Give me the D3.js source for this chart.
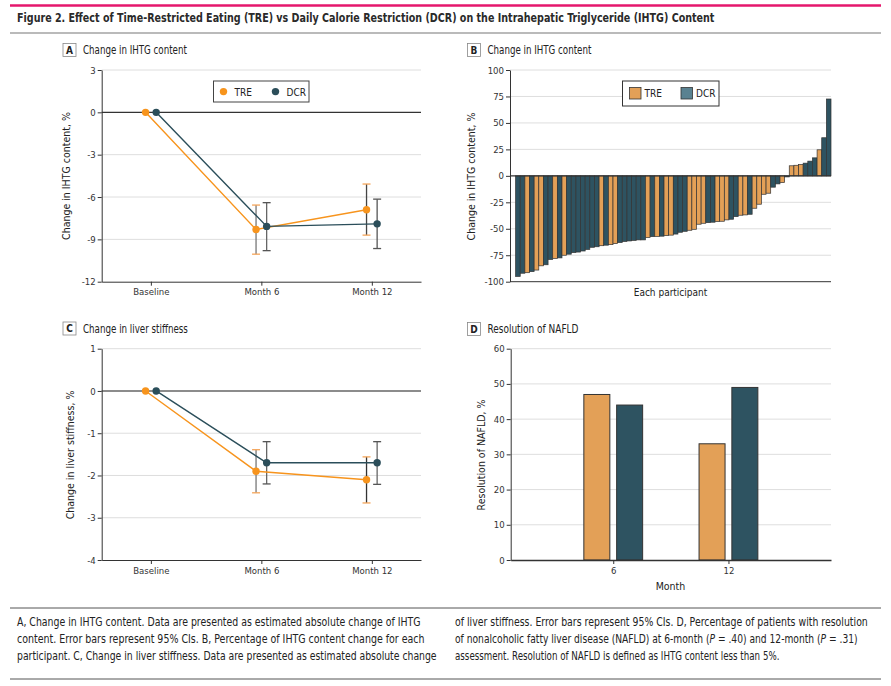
<!DOCTYPE html>
<html>
<head>
<meta charset="utf-8">
<script src="https://cdn.jsdelivr.net/npm/d3@7"></script>
<style>
  body { margin: 0; background: #fff; }
  text { font-family: "Liberation Sans Narrow", "DejaVu Sans Condensed", "Roboto", sans-serif; fill: #222; }
  .tick text { font-size: 9.5px; fill: #333; }
  .tick line, .domain { stroke: #333; }
</style>
</head>
<body>
<svg id="fig" width="891" height="686"></svg>
<script>
// ---- data ----
var timepoints = ["Baseline", "Month 6", "Month 12"];

// panel A: change in IHTG content, %
var ihtgTRE   = [0, -8.3, -6.9];
var ihtgTRElo = [null, -10.05, -8.7];
var ihtgTREhi = [null, -6.57, -5.08];
var ihtgDCR   = [0, -8.08, -7.9];
var ihtgDCRlo = [null, -9.8, -9.65];
var ihtgDCRhi = [null, -6.4, -6.15];
var ihtgTicks = [3, 0, -3, -6, -9, -12];

// panel C: change in liver stiffness
var stiffTRE   = [0, -1.9, -2.1];
var stiffTRElo = [null, -2.41, -2.65];
var stiffTREhi = [null, -1.39, -1.56];
var stiffDCR   = [0, -1.7, -1.7];
var stiffDCRlo = [null, -2.2, -2.21];
var stiffDCRhi = [null, -1.2, -1.2];
var stiffTicks = [1, 0, -1, -2, -3, -4];

// panel B: each participant, sorted
var participantGroup = ["DCR","DCR","TRE","DCR","TRE","TRE","DCR","DCR","TRE","DCR",
  "TRE","DCR","DCR","DCR","DCR","DCR","DCR","DCR","TRE","DCR",
  "TRE","TRE","DCR","DCR","DCR","DCR","DCR","DCR","TRE","DCR",
  "TRE","DCR","TRE","TRE","DCR","DCR","DCR","TRE","TRE","TRE",
  "TRE","DCR","DCR","TRE","TRE","TRE","DCR","DCR","TRE","TRE",
  "DCR","TRE","TRE","TRE","TRE","DCR","DCR","TRE","DCR","TRE",
  "TRE","TRE","DCR","DCR","DCR","TRE","DCR","DCR"];
var participantChange = [-95, -92, -91.5, -90.5, -89, -85, -84, -79, -78, -77.5,
  -75, -74, -72.5, -72, -71, -69.5, -67.5, -67, -66, -65.5,
  -65, -64, -63, -62, -61.5, -61, -60.5, -60.5, -58.3, -57.4,
  -57.2, -57, -56.4, -56, -55, -53.3, -52.4, -51.4, -50.5, -45.7,
  -44.8, -44.2, -43.8, -43.2, -42.9, -41.6, -41, -38.5, -37.2, -36.9,
  -36.3, -30.6, -26.8, -17.4, -16.4, -10.7, -7.6, -6.3, -1, 9.5,
  10, 10.7, 12, 13.9, 17, 24.6, 36, 72.6];
var pctTicks = [100, 75, 50, 25, 0, -25, -50, -75, -100];

// panel D: resolution of NAFLD, %
var months = ["6", "12"];
var resolutionTRE = [47, 33];
var resolutionDCR = [44, 49];
var resTicks = [0, 10, 20, 30, 40, 50, 60];

var lineColor = { TRE: "#f7941d", DCR: "#2b4e5a" };
var barColor  = { TRE: "#e3a057", DCR: "#2e5361" };

var svg = d3.select("#fig");
var fmt = function(d) { return String(d); };

// squeeze a text horizontally to the width measured on the reference
function fit(sel, w) {
  var n = sel.node().getComputedTextLength();
  var x = +sel.attr("x"), y = +sel.attr("y");
  return sel.attr("x", 0).attr("y", 0)
    .attr("transform", "translate(" + x + "," + y + ") scale(" + (w / n).toFixed(4) + ",1)");
}

// ---- header ----
svg.append("line").attr("x1", 10).attr("x2", 881).attr("y1", 5.5).attr("y2", 5.5)
  .attr("stroke", "#e5176c").attr("stroke-width", 2.5);
fit(svg.append("text").attr("x", 17).attr("y", 21.5)
  .style("font-size", "12.5px").style("font-weight", "bold").style("fill", "#2a2a2a")
  .text("Figure 2. Effect of Time-Restricted Eating (TRE) vs Daily Calorie Restriction (DCR) on the Intrahepatic Triglyceride (IHTG) Content"), 698);
svg.append("line").attr("x1", 10).attr("x2", 881).attr("y1", 33).attr("y2", 33)
  .attr("stroke", "#777").attr("stroke-width", 1.2);

function panelLabel(x, y, letter, title, w) {
  svg.append("rect").attr("x", x).attr("y", y).attr("width", 13).attr("height", 13)
    .attr("fill", "none").attr("stroke", "#888").attr("stroke-width", 0.8);
  svg.append("text").attr("x", x + 6.5).attr("y", y + 10).attr("text-anchor", "middle")
    .style("font-size", "10px").style("font-weight", "bold").text(letter);
  fit(svg.append("text").attr("x", x + 20).attr("y", y + 10.5)
    .style("font-size", "11.5px").text(title), w);
}

function yLabel(x, y, txt) {
  svg.append("text").attr("transform", "translate(" + x + "," + y + ") rotate(-90)")
    .attr("text-anchor", "middle").style("font-size", "10.5px").text(txt);
}

function grid(y, ticks, left, right, skip) {
  svg.append("g").selectAll("line")
    .data(ticks.filter(function(t) { return skip.indexOf(t) < 0; }))
    .enter().append("line")
    .attr("x1", left).attr("x2", right)
    .attr("y1", function(d) { return y(d); }).attr("y2", function(d) { return y(d); })
    .attr("stroke", "#dedede").attr("stroke-width", 1);
}

function linePanel(cfg) {
  var x = d3.scalePoint().domain(timepoints).range([cfg.left, cfg.right]).padding(0.445);
  var y = d3.scaleLinear().domain([cfg.ticks[cfg.ticks.length - 1], cfg.ticks[0]])
    .range([cfg.bottom, cfg.top]);

  grid(y, cfg.ticks, cfg.left, cfg.right, [0, cfg.ticks[cfg.ticks.length - 1]]);
  svg.append("line").attr("x1", cfg.left).attr("x2", cfg.right)
    .attr("y1", y(0)).attr("y2", y(0)).attr("stroke", cfg.zeroColor).attr("stroke-width", cfg.zeroWidth);

  svg.append("g").attr("transform", "translate(" + cfg.left + ",0)")
    .call(d3.axisLeft(y).tickValues(cfg.ticks).tickFormat(fmt).tickSize(4).tickSizeOuter(0).tickPadding(2));
  svg.append("g").attr("transform", "translate(0," + cfg.bottom + ")")
    .call(d3.axisBottom(x).tickSize(4).tickSizeOuter(0).tickPadding(3));

  var series = [
    { key: "TRE", vals: cfg.tre, lo: cfg.trelo, hi: cfg.trehi, dx: -5.3, bar: cfg.treBar },
    { key: "DCR", vals: cfg.dcr, lo: cfg.dcrlo, hi: cfg.dcrhi, dx: 5.3, bar: cfg.dcrBar }
  ];

  series.forEach(function(s) {
    var g = svg.append("g");
    timepoints.forEach(function(t, i) {
      if (s.lo[i] === null) return;
      var cx = x(t) + s.dx;
      g.append("line").attr("x1", cx).attr("x2", cx)
        .attr("y1", y(s.lo[i])).attr("y2", y(s.hi[i]))
        .attr("stroke", s.bar[i]).attr("stroke-width", 1.3);
      [s.lo[i], s.hi[i]].forEach(function(v) {
        g.append("line").attr("x1", cx - 4).attr("x2", cx + 4)
          .attr("y1", y(v)).attr("y2", y(v))
          .attr("stroke", s.key === "TRE" ? "#f4a55a" : "#555").attr("stroke-width", 1.3);
      });
    });
  });

  series.forEach(function(s) {
    var line = d3.line()
      .x(function(d, i) { return x(timepoints[i]) + s.dx; })
      .y(function(d) { return y(d); });
    svg.append("path").datum(s.vals).attr("d", line)
      .attr("fill", "none").attr("stroke", lineColor[s.key]).attr("stroke-width", 1.4);
  });
  series.forEach(function(s) {
    svg.append("g").selectAll("circle").data(s.vals).enter().append("circle")
      .attr("cx", function(d, i) { return x(timepoints[i]) + s.dx; })
      .attr("cy", function(d) { return y(d); })
      .attr("r", 3.7).attr("fill", lineColor[s.key]);
  });
}

// ---- panel A ----
panelLabel(63, 43.5, "A", "Change in IHTG content", 104);
linePanel({
  left: 101.7, right: 421, top: 70, bottom: 281.7, ticks: ihtgTicks,
  tre: ihtgTRE, trelo: ihtgTRElo, trehi: ihtgTREhi,
  dcr: ihtgDCR, dcrlo: ihtgDCRlo, dcrhi: ihtgDCRhi,
  treBar: [null, "#777", "#444"], dcrBar: [null, "#666", "#555"],
  zeroColor: "#333", zeroWidth: 1.2
});
yLabel(70, 176, "Change in IHTG content, %");
// legend A
svg.append("rect").attr("x", 213.5).attr("y", 81).attr("width", 95.5).attr("height", 21)
  .attr("fill", "#fff").attr("stroke", "#444").attr("stroke-width", 1);
[["TRE", 223.5], ["DCR", 275.5]].forEach(function(l) {
  svg.append("circle").attr("cx", l[1]).attr("cy", 91.6).attr("r", 3.7).attr("fill", lineColor[l[0]]);
  svg.append("text").attr("x", l[1] + 11).attr("y", 95.5).style("font-size", "10px").text(l[0]);
});

// ---- panel C ----
panelLabel(63, 322, "C", "Change in liver stiffness", 105);
linePanel({
  left: 101.7, right: 421, top: 348.7, bottom: 560, ticks: stiffTicks,
  tre: stiffTRE, trelo: stiffTRElo, trehi: stiffTREhi,
  dcr: stiffDCR, dcrlo: stiffDCRlo, dcrhi: stiffDCRhi,
  treBar: [null, "#777", "#333"], dcrBar: [null, "#666", "#666"],
  zeroColor: "#666", zeroWidth: 1.6
});
yLabel(74, 455, "Change in liver stiffness, %");

// ---- panel B ----
panelLabel(467.5, 43.5, "B", "Change in IHTG content", 104);
(function() {
  var left = 510, right = 831, top = 70, bottom = 281.7;
  var idx = d3.range(participantChange.length);
  var x = d3.scaleBand().domain(idx).range([515.6, 831]).paddingInner(0);
  var y = d3.scaleLinear().domain([-100, 100]).range([bottom, top]);
  grid(y, pctTicks, left, right, [0, -100]);
  svg.append("g").selectAll("rect").data(idx).enter().append("rect")
    .attr("x", function(i) { return x(i); })
    .attr("width", x.bandwidth())
    .attr("y", function(i) { return y(Math.max(0, participantChange[i])); })
    .attr("height", function(i) { return Math.abs(y(participantChange[i]) - y(0)); })
    .attr("fill", function(i) { return barColor[participantGroup[i]]; })
    .attr("stroke", "#333").attr("stroke-width", 0.7);
  svg.append("line").attr("x1", left).attr("x2", right).attr("y1", y(0)).attr("y2", y(0))
    .attr("stroke", "#333").attr("stroke-width", 1.2);
  svg.append("g").attr("transform", "translate(" + left + ",0)")
    .call(d3.axisLeft(y).tickValues(pctTicks).tickFormat(fmt).tickSize(4).tickSizeOuter(0).tickPadding(2));
  svg.append("line").attr("x1", left).attr("x2", right).attr("y1", bottom).attr("y2", bottom)
    .attr("stroke", "#333");
  svg.append("text").attr("x", 670.5).attr("y", 295.5).attr("text-anchor", "middle")
    .style("font-size", "10px").text("Each participant");
  yLabel(475, 176.5, "Change in IHTG content, %");
  // legend B
  svg.append("rect").attr("x", 622.5).attr("y", 81).attr("width", 96.5).attr("height", 25)
    .attr("fill", "#fff").attr("stroke", "#333").attr("stroke-width", 1);
  [["TRE", 629.5, "#e3a057"], ["DCR", 681, "#5a8291"]].forEach(function(l) {
    svg.append("rect").attr("x", l[1]).attr("y", 87.5).attr("width", 11.5).attr("height", 11.5)
      .attr("fill", l[2]).attr("stroke", "#333").attr("stroke-width", 0.8);
    svg.append("text").attr("x", l[1] + 15).attr("y", 97).style("font-size", "10px").text(l[0]);
  });
})();

// ---- panel D ----
panelLabel(467.5, 322.5, "D", "Resolution of NAFLD", 91);
(function() {
  var left = 510.7, right = 831, top = 348.7, bottom = 560;
  var x = d3.scalePoint().domain(months).range([left, right]).padding(0.89);
  var y = d3.scaleLinear().domain([0, 60]).range([bottom, top]);
  grid(y, resTicks, left, right, [0]);
  var bw = 26, gap = 3.4;
  var groups = [
    { key: "TRE", vals: resolutionTRE, off: -gap - bw },
    { key: "DCR", vals: resolutionDCR, off: gap }
  ];
  groups.forEach(function(s) {
    svg.append("g").selectAll("rect").data(s.vals).enter().append("rect")
      .attr("x", function(d, i) { return x(months[i]) + s.off; })
      .attr("width", bw)
      .attr("y", function(d) { return y(d); })
      .attr("height", function(d) { return y(0) - y(d); })
      .attr("fill", barColor[s.key]).attr("stroke", "#333").attr("stroke-width", 1);
  });
  svg.append("g").attr("transform", "translate(" + left + ",0)")
    .call(d3.axisLeft(y).tickValues(resTicks).tickFormat(fmt).tickSize(4).tickSizeOuter(0).tickPadding(2));
  var xg = svg.append("g").attr("transform", "translate(0," + bottom + ")")
    .call(d3.axisBottom(x).tickSize(4).tickSizeOuter(0).tickPadding(3));
  xg.select(".domain").attr("stroke", "#777").attr("stroke-width", 1.6);
  svg.append("text").attr("x", 670.5).attr("y", 589.5).attr("text-anchor", "middle")
    .style("font-size", "10.5px").text("Month");
  yLabel(485, 455, "Resolution of NAFLD, %");
})();

// ---- caption ----
svg.append("line").attr("x1", 10).attr("x2", 881).attr("y1", 608).attr("y2", 608)
  .attr("stroke", "#555").attr("stroke-width", 1);
svg.append("line").attr("x1", 10).attr("x2", 881).attr("y1", 679).attr("y2", 679)
  .attr("stroke", "#555").attr("stroke-width", 1);
var captionLeft = [
  "A, Change in IHTG content. Data are presented as estimated absolute change of IHTG",
  "content. Error bars represent 95% CIs. B, Percentage of IHTG content change for each",
  "participant. C, Change in liver stiffness. Data are presented as estimated absolute change"
];
var captionLeftW = [404, 408, 420];
captionLeft.forEach(function(t, i) {
  fit(svg.append("text").attr("x", 17).attr("y", 626 + i * 17).style("font-size", "11.5px").text(t), captionLeftW[i]);
});
fit(svg.append("text").attr("x", 455).attr("y", 626).style("font-size", "11.5px")
  .text("of liver stiffness. Error bars represent 95% CIs. D, Percentage of patients with resolution"), 413);
var r2 = svg.append("text").attr("x", 455).attr("y", 643).style("font-size", "11.5px");
r2.append("tspan").text("of nonalcoholic fatty liver disease (NAFLD) at 6-month (");
r2.append("tspan").style("font-style", "italic").text("P");
r2.append("tspan").text(" = .40) and 12-month (");
r2.append("tspan").style("font-style", "italic").text("P");
r2.append("tspan").text(" = .31)");
fit(r2, 403);
fit(svg.append("text").attr("x", 455).attr("y", 660).style("font-size", "11.5px")
  .text("assessment. Resolution of NAFLD is defined as IHTG content less than 5%."), 325);
</script>
</body>
</html>
